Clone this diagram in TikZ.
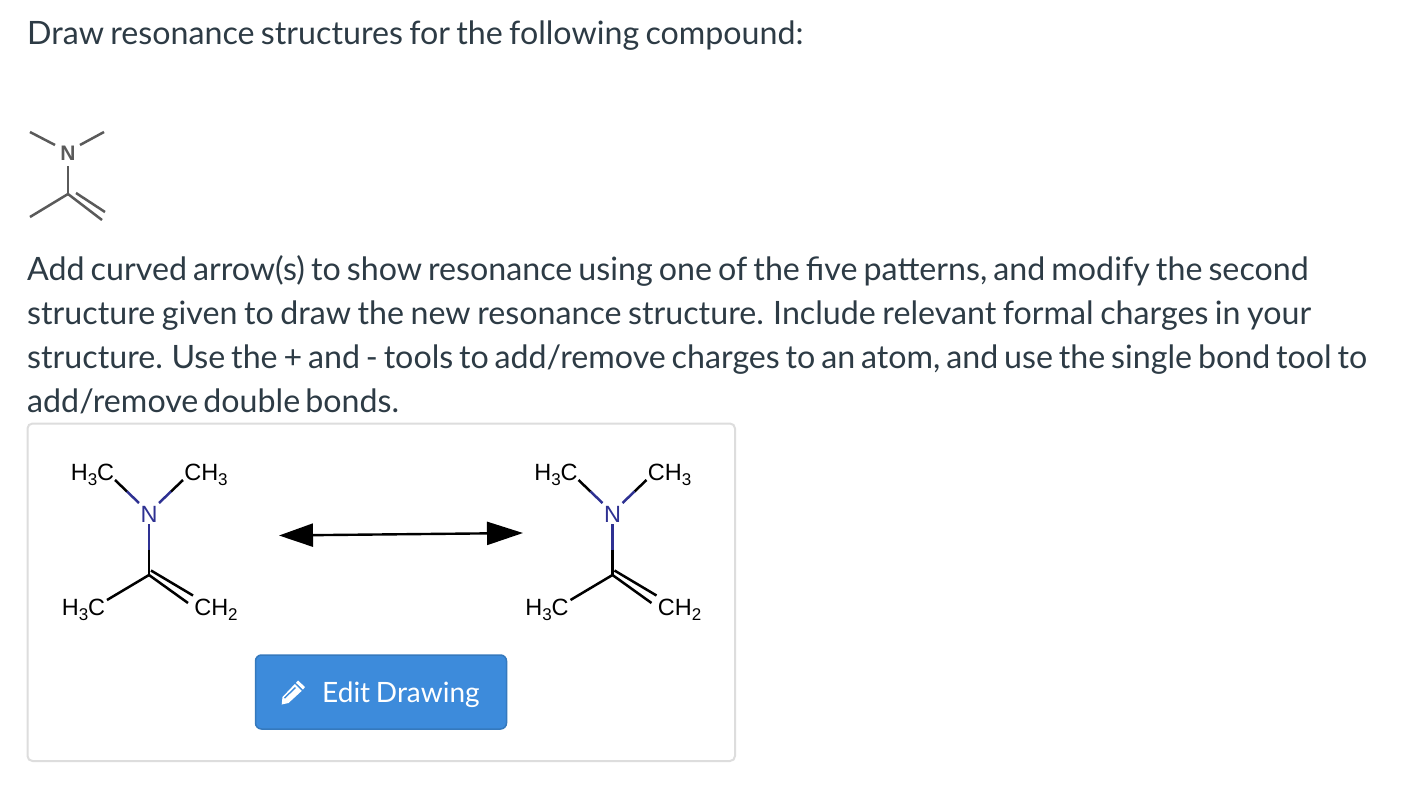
\documentclass[tikz,border=0pt]{standalone}
\usepackage{fontspec}
\setmainfont[WordSpace=0.8]{Lato}
\newfontfamily\molfont{Liberation Sans}
\usetikzlibrary{arrows.meta,calc}
\definecolor{bodytext}{HTML}{2D3B45}
\definecolor{nblue}{HTML}{2E3192}
\definecolor{btnfill}{HTML}{3D8BDB}
\definecolor{btnedge}{HTML}{3579BD}
\definecolor{boxedge}{HTML}{DDDDDD}
\definecolor{thumb}{HTML}{5A5A5A}
\newcommand{\subn}[1]{\raisebox{-0.25em}{\fontsize{17}{17}\selectfont #1}}
\tikzset{
  para/.style={anchor=base west,inner sep=0pt,text=bodytext,font=\fontsize{32.2}{32.2}\selectfont},
  atom/.style={inner sep=0pt,anchor=base,font=\molfont\fontsize{23.5}{23.5}\selectfont},
  bondk/.style={line width=2.5pt,black},
  bondn/.style={line width=2.5pt,nblue},
  thumbbond/.style={line width=2.5pt,thumb},
}
% #1 prefix, #2 x shift, #3 y shift
\newcommand{\molecule}[3]{%
\begin{scope}[shift={(#2,#3)}]
  \node[atom] (#1hl) at (92.5,480) {H\subn{3}C};
  \node[atom] (#1hr) at (206,480) {CH\subn{3}};
  \node[atom,text=nblue] (#1n) at (149,522) {N};
  \node[atom] (#1ll) at (83.5,615) {H\subn{3}C};
  \node[atom] (#1ch) at (216,615) {CH\subn{2}};
  \coordinate (#1c) at (149,575);
  \coordinate (#1a1) at (115,480); \coordinate (#1a2) at (139,503);
  \coordinate (#1b1) at (183,480); \coordinate (#1b2) at (159,503);
  \coordinate (#1d1) at (149,524);
  \coordinate (#1e) at (107,600);
  \coordinate (#1f1) at (188,603);
  \coordinate (#1g0) at (151,570.5); \coordinate (#1g1) at (193,595.5);
  \draw[bondk] (#1a1) -- ($(#1a1)!.5!(#1a2)$);
  \draw[bondn] ($(#1a1)!.5!(#1a2)$) -- (#1a2);
  \draw[bondk] (#1b1) -- ($(#1b1)!.5!(#1b2)$);
  \draw[bondn] ($(#1b1)!.5!(#1b2)$) -- (#1b2);
  \draw[bondn] (#1d1) -- ($(#1d1)!.5!(#1c)$);
  \draw[bondk] ($(#1d1)!.5!(#1c)$) -- (#1c);
  \draw[bondk] (#1c) -- (#1e);
  \draw[bondk] (#1c) -- (#1f1);
  \draw[bondk] (#1g0) -- (#1g1);
\end{scope}}
\begin{document}
\begin{tikzpicture}[x=1pt,y=-1pt]
\useasboundingbox (0,0) rectangle (1426,784);
\fill[white] (0,0) rectangle (1426,784);

\node[para] (q1) at (27,44.5) {\spaceskip=6.3pt Draw resonance structures for the following compound:};
\node[para] (q2) at (27,280.5) {\spaceskip=6.05pt Add curved arrow(s) to show resonance using one of the five patterns, and modify the second};
\node[para] (q3) at (27,324.5) {\spaceskip=6.54pt structure given to draw the new resonance structure. Include relevant formal charges in your};
\node[para] (q4) at (27,368.5) {\spaceskip=5.83pt structure. Use the + and - tools to add/remove charges to an atom, and use the single bond tool to};
\node[para] (q5) at (27,412.5) {\spaceskip=5pt add/remove double bonds.};

% small thumbnail structure
\node[inner sep=0pt,text=thumb,font=\molfont\bfseries\fontsize{21}{21}\selectfont] (tn) at (68,153) {N};
\coordinate (t1) at (30,132); \coordinate (t1e) at (55,145);
\coordinate (t2) at (104,132); \coordinate (t2e) at (80,145);
\coordinate (t3) at (68,166); \coordinate (tc) at (68,194);
\coordinate (t4) at (30,217); \coordinate (t5) at (102,220);
\coordinate (t6s) at (76,193); \coordinate (t6) at (105,212);
\draw[thumbbond] (t1) -- (t1e);
\draw[thumbbond] (t2) -- (t2e);
\draw[thumbbond] (t3) -- (tc);
\draw[thumbbond] (tc) -- (t4);
\draw[thumbbond] (tc) -- (t5);
\draw[thumbbond] (t6s) -- (t6);

% answer box
\draw[boxedge,line width=2pt,rounded corners=5pt,fill=white] (27.5,423.5) rectangle (735,761);

\molecule{l}{0}{0}
\molecule{r}{463.5}{0}

% resonance arrow
\coordinate (ar1) at (279,535.5);
\coordinate (ar2) at (523,533);
\draw[line width=2.4pt,black,{Triangle[length=34pt,width=23pt]}-{Triangle[length=36pt,width=23pt]}] (ar1) -- (ar2);

% button
\draw[btnedge,line width=1.5pt,fill=btnfill,rounded corners=6pt] (255.5,655) rectangle (506.5,729);
\node[anchor=base west,inner sep=0pt,text=white,font=\fontsize{28}{28}\selectfont] (edit) at (322,702) {Edit Drawing};
% pencil icon
\fill[white] (298,680.5) -- (305,687) -- (303,689.5) -- (296,682.8) -- cycle;
\fill[white] (294.8,684) -- (301.8,690.8) -- (288.5,703) -- (281.7,704.5) -- (282.5,697) -- cycle;
\fill[btnfill] (284,697.5) -- (295,687) -- (296,688) -- (285,698.5) -- cycle;
\end{tikzpicture}
\end{document}
